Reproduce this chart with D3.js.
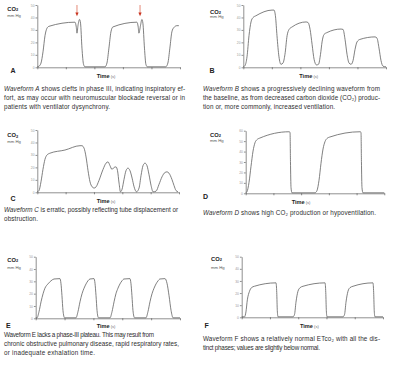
<!DOCTYPE html>
<html>
<head>
<meta charset="utf-8">
<script src="https://cdn.jsdelivr.net/npm/d3@7"></script>
<style>
body{margin:0;background:#fff;}
svg{display:block;}
.cap{font-family:"Liberation Sans",Arial,sans-serif;font-size:6.3px;fill:#2e2e2e;}
.lab{font-family:"Liberation Sans",Arial,sans-serif;fill:#222;}
.axis path,.axis line{stroke:#444;stroke-width:0.6;}
.axis text{font-family:"Liberation Sans",Arial,sans-serif;font-size:3.3px;fill:#999;}
</style>
</head>
<body>
<script>

// DATA (time in s, CO2 in mm Hg)
var xTicks = [0,2,4,6,8,10];
var yTicks50 = [0,10,20,30,40,50];
var yTicks60 = [0,10,20,30,40,50,60];

var timeA = [0,0.12,0.26,0.4,0.54,0.68,0.82,2.64,2.73,2.78,2.85,2.96,3.03,3.13,3.24,3.34,4.74,4.88,5.02,5.16,5.3,6.98,7.07,7.12,7.23,7.33,7.4,7.51,7.61,7.71,9.0,9.15,9.29,9.43,9.57,9.78,9.92];
var co2A  = [0,0.5,3,12,25,31,32.5,35.8,32,27,33,38,35,15,2,0,0,3,15,28,32,35.8,32,27,33,38,35,15,2,0,0,3,15,28,31.5,33,33];
var arrowsA = [2.78,7.2];

var timeB = [0,0.12,0.26,0.4,0.54,0.68,0.89,2.01,2.15,2.26,2.36,2.5,2.64,2.78,2.92,3.07,3.21,3.42,4.4,4.54,4.68,4.82,4.96,5.13,5.27,5.41,5.52,5.66,5.87,6.85,6.99,7.13,7.27,7.41,7.55,7.69,7.83,7.97,8.18,9.23,9.37,9.51,9.65,9.79,10];
var co2B  = [0,1,8,25,36,39.5,41,45.5,45.5,40,25,8,2,3,10,25,30,32,36,35.5,30,18,6,1.5,2,10,20,26,27.5,30.3,30,22,10,3,2,5,14,20,22,24,23,15,5,0.5,0];

var timeC = [0,0.12,0.26,0.4,0.54,0.68,0.9,1.95,3.01,3.15,3.3,3.44,3.58,3.72,3.87,4.01,4.15,4.35,4.64,4.85,4.99,5.13,5.27,5.41,5.55,5.66,5.77,5.87,5.98,6.12,6.26,6.4,6.54,6.69,6.83,7.0,7.18,7.32,7.46,7.6,7.74,7.88,8.03,8.17,8.38,8.59,8.8,9.01,9.15,9.29,9.5,9.65,9.79,9.93];
var co2C  = [0,1,8,18,26,29.5,31,33.5,37,37,35,28,17,8,4,3,4,9,18,23,24,21,18,19.5,20,17,7,0,2,10,17,19,17,11,4,0,3,13,21,23,21,14,5,0,0.5,6,12,15.5,16,15,10,5,1,0];

var timeD = [0,0.09,0.24,0.38,0.53,0.67,0.82,1.03,3.12,3.2,3.23,3.27,3.34,5.0,5.14,5.29,5.43,5.58,5.72,5.86,6.08,8.25,8.32,8.35,8.39,8.46,10];
var co2D  = [0,1,10,25,40,48,51,52.5,58.5,58,30,5,0,0,2,12,28,42,49,52,53.5,58.5,58,30,5,0,0];

var timeE = [0,0.09,0.23,0.37,0.51,0.64,0.85,1.06,1.27,1.68,1.75,1.82,1.89,2.0,
             2.79,2.93,3.07,3.21,3.35,3.49,3.62,3.76,4.04,4.11,4.18,4.25,4.35,
             5.15,5.29,5.43,5.56,5.7,5.84,5.98,6.12,6.53,6.6,6.67,6.74,6.85,
             7.64,7.78,7.92,8.06,8.2,8.34,8.48,8.61,8.96,9.1,9.24,9.38,9.52,10];
var co2E  = [0,0,5,13,19.5,24,27.5,30,31.5,31.8,28,18,6,0,
             0,5,13,19.5,24,27.5,30,31.5,31.8,28,18,6,0,
             0,5,13,19.5,24,27.5,30,31.5,31.8,28,18,6,0,
             0,5,13,19.5,24,27.5,30,31.5,31.8,28,18,6,0,0];

var timeF = [0,0.2,0.3,0.4,0.55,0.69,0.9,2.43,2.48,2.52,2.57,3.63,3.74,3.84,3.98,4.13,4.34,5.9,5.95,5.99,6.04,7.17,7.28,7.38,7.52,7.66,7.88,9.29,9.34,9.38,9.43,10];
var co2F  = [0,0,4,14,21,24,25.2,28,20,5,0,0,2,12,21,24,25.2,28,20,5,0,0,2,12,21,24,25.2,28,20,5,0,0];

var captionA = ["Waveform A shows clefts in phase III, indicating inspiratory ef-","fort, as may occur with neuromuscular blockade reversal or in","patients with ventilator dysynchrony."];
var captionB = ["Waveform B shows a progressively declining waveform from","the baseline, as from decreased carbon dioxide (CO₂) produc-","tion or, more commonly, increased ventilation."];
var captionC = ["Waveform C is erratic, possibly reflecting tube displacement or","obstruction."];
var captionD = ["Waveform D shows high CO₂ production or hypoventilation."];
var captionE = ["Waveform E lacks a phase-III plateau. This may result from","chronic obstructive pulmonary disease, rapid respiratory rates,","or inadequate exhalation time."];
var captionF = ["Waveform F shows a relatively normal ETco₂ with all the dis-","tinct phases; values are slightly below normal."];

// LAYOUT
var panels = [
  {key:"A", t:timeA, v:co2A, yMax:50, yTicks:yTicks50, x0:37.3, x1:180, yTop:5, yBot:67.3,
   co2:[7.3,10.8,17.3], letter:[10.5,73.3], time:[96.7,78.3], cap:captionA, capX:4, capY:91, capW:[181,181,106], italic:true},
  {key:"B", t:timeB, v:co2B, yMax:50, yTicks:yTicks50, x0:243.3, x1:386, yTop:5, yBot:67.3,
   co2:[210,14,18.3], letter:[209.5,73.3], time:[299.3,78.3], cap:captionB, capX:203, capY:91, capW:[177,177,132], italic:true},
  {key:"C", t:timeC, v:co2C, yMax:50, yTicks:yTicks50, x0:37.3, x1:179, yTop:130, yBot:192.3,
   co2:[7.3,137.3,143.3], letter:[10.5,201], time:[96.7,203.3], cap:captionC, capX:4, capY:212.3, capW:[174,34], italic:true},
  {key:"D", t:timeD, v:co2D, yMax:60, yTicks:yTicks60, x0:245.7, x1:384.3, yTop:130.7, yBot:193.3,
   co2:[210,137,141.8], letter:[203,199], time:[291.7,204], cap:captionD, capX:203, capY:214.5, capW:[173], italic:true},
  {key:"E", t:timeE, v:co2E, yMax:50, yTicks:yTicks50, x0:35.7, x1:180, yTop:256.7, yBot:318.3,
   co2:[7.3,262,268.5], letter:[6,328.3], time:[96.7,328.3], cap:captionE, capX:4, capY:336.5, capW:[150,175,91], italic:false},
  {key:"F", t:timeF, v:co2F, yMax:50, yTicks:yTicks50, x0:241.7, x1:383, yTop:256.7, yBot:317.3,
   co2:[211,261,268.5], letter:[204.5,328.3], time:[300,328.3], cap:captionF, capX:203, capY:341, capW:[177,117], italic:false}
];

var svg = d3.select("body").append("svg").attr("width",400).attr("height",367);

panels.forEach(function(p){
    var g = svg.append("g");

    //SCALES
    var xScale = d3.scaleLinear().domain([0,10]).range([p.x0,p.x1]);
    var yScale = d3.scaleLinear().domain([0,p.yMax]).range([p.yBot,p.yTop]);

    //AXES
    g.append("g").attr("class","axis")
        .attr("transform","translate(0,"+p.yBot+")")
        .call(d3.axisBottom(xScale).tickValues(xTicks).tickSize(2).tickSizeOuter(0).tickFormat(""));

    g.append("g").attr("class","axis")
        .attr("transform","translate("+p.x0+",0)")
        .call(d3.axisLeft(yScale).tickValues(p.yTicks).tickSize(1.8).tickSizeOuter(0).tickPadding(1));

    //WAVEFORM
    var pts = p.t.map(function(d,i){return {t:d, v:p.v[i]};});
    var line = d3.line()
        .x(function(d){return xScale(d.t);})
        .y(function(d){return yScale(d.v) - 0.5;})
        .curve(d3.curveMonotoneX);

    g.append("path")
        .attr("d", line(pts))
        .attr("fill","none")
        .attr("stroke","#606060")
        .attr("stroke-width",0.8)
        .attr("stroke-linejoin","round");

    //ARROWS (panel A only)
    if (p.key === "A") {
        arrowsA.forEach(function(a){
            var ax = xScale(a);
            g.append("line")
                .attr("x1",ax).attr("x2",ax)
                .attr("y1",yScale(50)).attr("y2",yScale(43.5))
                .attr("stroke","#e58a78").attr("stroke-width",1);
            g.append("path")
                .attr("d","M"+(ax-1.6)+","+yScale(44)+"L"+(ax+1.6)+","+yScale(44)+"L"+ax+","+yScale(41)+"Z")
                .attr("fill","#c8321e");
        });
    }

    //LABELS
    var co2 = g.append("text").attr("class","lab")
        .attr("x",p.co2[0]).attr("y",p.co2[1])
        .style("font-size","5.8px").style("font-weight","bold");
    co2.append("tspan").text("CO");
    co2.append("tspan").text("2").style("font-size","4px").attr("dy",0.4);

    g.append("text").attr("class","lab")
        .attr("x",p.co2[0]).attr("y",p.co2[2])
        .style("font-size","4.2px").style("fill","#555")
        .text("mm Hg");

    g.append("text").attr("class","lab")
        .attr("x",p.letter[0]).attr("y",p.letter[1])
        .style("font-size","7px").style("font-weight","bold")
        .text(p.key);

    var tl = g.append("text").attr("class","lab")
        .attr("x",p.time[0]).attr("y",p.time[1])
        .style("font-size","5.6px").style("font-weight","bold");
    tl.append("tspan").text("Time");
    tl.append("tspan").text(" (s)").style("font-size","4px").style("font-weight","normal").style("fill","#666");

    //CAPTION
    p.cap.forEach(function(txt,i){
        var t = g.append("text").attr("class","cap")
            .attr("x",p.capX).attr("y",p.capY + i*9)
            .attr("textLength",p.capW[i]).attr("lengthAdjust","spacing");
        var head = "Waveform " + p.key;
        if (i === 0 && p.italic) {
            t.append("tspan").style("font-style","italic").text(head);
            t.append("tspan").text(txt.slice(head.length));
        } else {
            t.text(txt);
        }
    });
});

</script>
</body>
</html>
